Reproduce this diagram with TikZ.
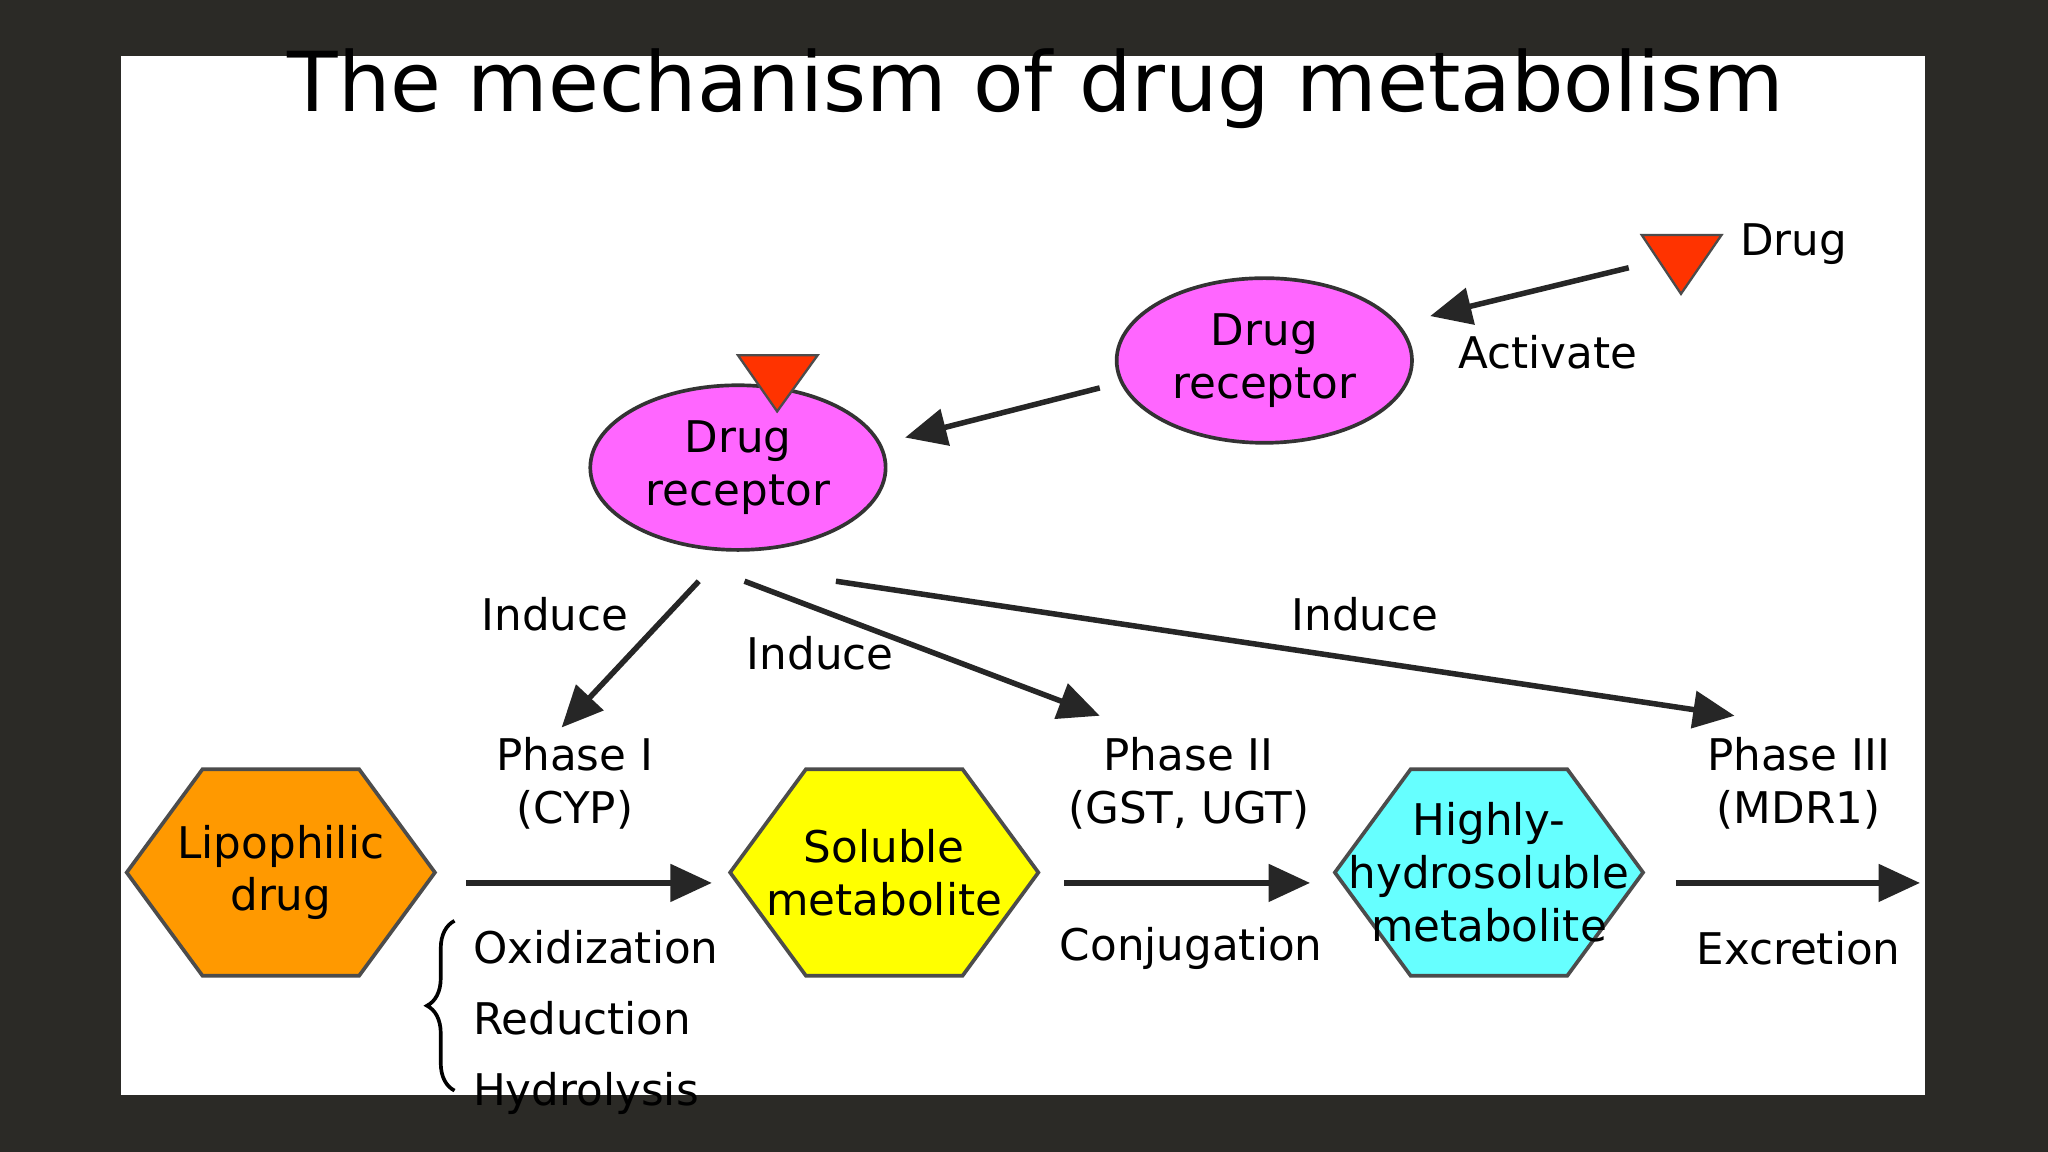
\documentclass[tikz,border=0pt]{standalone}
\usepackage{fontspec}
\setmainfont{DejaVu Sans}
\usetikzlibrary{arrows.meta,decorations.pathreplacing,shapes.geometric}
\definecolor{frame}{HTML}{2B2A26}
\definecolor{hexorange}{HTML}{FF9900}
\definecolor{hexyellow}{HTML}{FFFF00}
\definecolor{hexcyan}{HTML}{66FFFF}
\definecolor{receptor}{HTML}{FF66FF}
\definecolor{drugred}{HTML}{FF3300}
\tikzset{
	label text/.style={font=\fontsize{9.5}{11.5}\selectfont, align=center, inner sep=1pt},
	flow/.style={-{Triangle[length=9pt,width=8pt]}, line width=1.2pt, draw=black!85},
	receptor/.style={ellipse, draw=black!80, line width=0.8pt, fill=receptor,
		minimum width=2.26cm, minimum height=1.26cm, font=\fontsize{9.5}{11.5}\selectfont, align=center, inner sep=0pt},
	hexa/.style={draw=black!70, line width=0.8pt},
	drug/.style={fill=drugred, draw=black!70, line width=0.5pt}
}
\newcommand{\hexagon}[4]{% name, center, colour, text
	\coordinate (#1 c) at (#2);
	\path[hexa, fill=#3] ([shift={(-118,0)}]#1 c) -- ([shift={(-60,-79)}]#1 c) -- ([shift={(60,-79)}]#1 c)
		-- ([shift={(118,0)}]#1 c) -- ([shift={(60,79)}]#1 c) -- ([shift={(-60,79)}]#1 c) -- cycle;
	\node[label text] (#1) at (#1 c) {#4};
}
\begin{document}
\begin{tikzpicture}[x=0.01cm, y=-0.01cm]
\fill[frame] (0,0) rectangle (1568,882);
\fill[white] (93,43) rectangle (1474,838);
\useasboundingbox (0,0) rectangle (1568,882);

% title
\node[font=\fontsize{18}{20}\selectfont] (title) at (793,68) {The mechanism of drug metabolism};

% hexagons
\hexagon{lipo}{215,668}{hexorange}{Lipophilic\\drug}
\hexagon{soluble}{677,668}{hexyellow}{Soluble\\metabolite}
\hexagon{hydro}{1140,668}{hexcyan}{Highly-\\hydrosoluble\\metabolite}

% receptors
\node[receptor] (rec1) at (565,358) {Drug\\receptor};
\node[receptor] (rec2) at (968,276) {Drug\\receptor};

% drugs
\draw[drug] (1257,180) -- (1318,180) -- (1287,225) -- cycle;
\draw[drug] (565,272) -- (626,272) -- (595,315) -- cycle;
\node[label text, anchor=west] (druglab) at (1328,187) {Drug};

% activation
\coordinate (drug tip) at (1247,205);
\coordinate (rec2 in) at (1095,242);
\coordinate (rec2 out) at (842,297);
\coordinate (rec1 in) at (693,335);
\draw[flow] (drug tip) -- (rec2 in);
\draw[flow] (rec2 out) -- (rec1 in);
\node[label text] (activate) at (1185,270) {Activate};

% induction
\coordinate (ind1) at (535,445);
\coordinate (ind2) at (570,445);
\coordinate (ind3) at (640,445);
\coordinate (ph1) at (430,557);
\coordinate (ph2) at (842,548);
\coordinate (ph3) at (1328,548);
\draw[flow] (ind1) -- (ph1);
\draw[flow] (ind2) -- (ph2);
\draw[flow] (ind3) -- (ph3);
\node[label text] (induce1) at (425,470) {Induce};
\node[label text] (induce2) at (628,500) {Induce};
\node[label text] (induce3) at (1045,470) {Induce};

% phases
\node[label text] (phase1) at (440,600) {Phase I\\(CYP)};
\node[label text] (phase2) at (910,600) {Phase II\\(GST, UGT)};
\node[label text] (phase3) at (1377,600) {Phase III\\(MDR1)};

% reactions
\coordinate (r1a) at (357,676);
\coordinate (r1b) at (545,676);
\coordinate (r2a) at (815,676);
\coordinate (r2b) at (1003,676);
\coordinate (r3a) at (1283,676);
\coordinate (r3b) at (1470,676);
\draw[flow] (r1a) -- (r1b);
\draw[flow] (r2a) -- (r2b);
\draw[flow] (r3a) -- (r3b);
\node[label text] (conj) at (912,726) {Conjugation};
\node[label text] (excr) at (1377,726) {Excretion};
\node[label text, align=left, anchor=north west] (ox) at (358,708) {Oxidization\\[4pt]Reduction\\[4pt]Hydrolysis};
\coordinate (brace top) at (348,705);
\coordinate (brace bottom) at (348,835);
\draw[line width=0.8pt, decorate, decoration={brace, amplitude=6pt}] (brace bottom) -- (brace top);
\end{tikzpicture}
\end{document}
